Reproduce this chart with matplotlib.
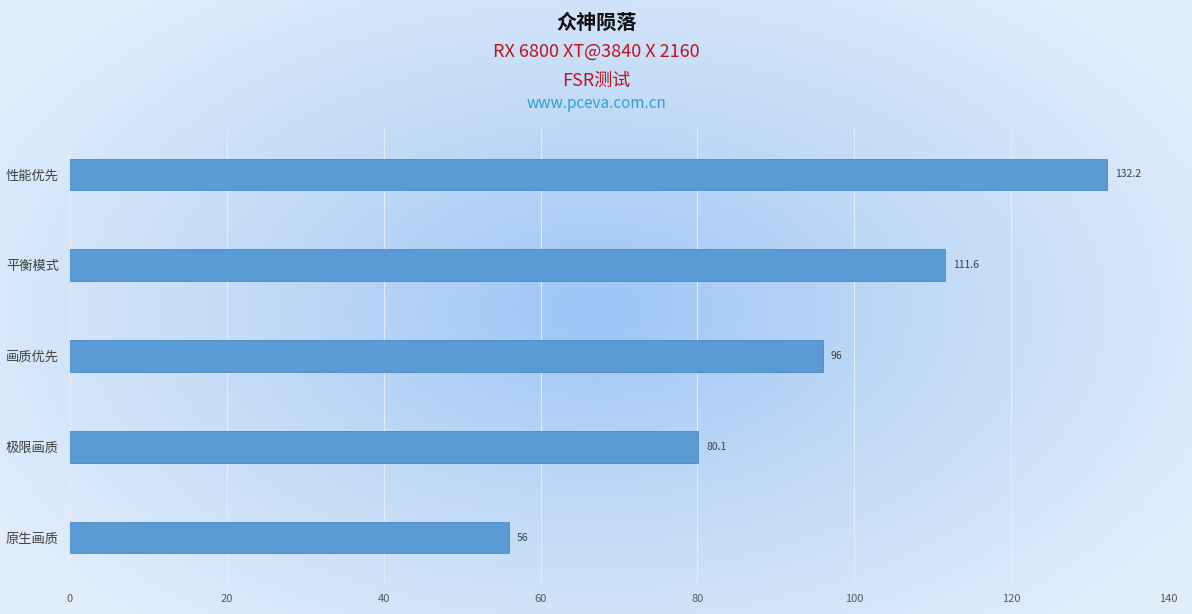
import numpy as np
import matplotlib.pyplot as plt
from matplotlib.colors import LinearSegmentedColormap

plt.rcParams['font.family'] = ['Noto Sans CJK SC', 'DejaVu Sans']

# ---------------- DATA ---------------- #
categories = ["性能优先", "平衡模式", "画质优先", "极限画质", "原生画质"]
fps = [132.2, 111.6, 96, 80.1, 56]
value_labels = ["132.2", "111.6", "96", "80.1", "56"]

title = "众神陨落"
subtitle1 = "RX 6800 XT@3840 X 2160"
subtitle2 = "FSR测试"
site = "www.pceva.com.cn"

# ---------------- FIGURE ---------------- #
fig = plt.figure(figsize=(11.92, 6.14), dpi=100)

# radial gradient background
bg = fig.add_axes([0, 0, 1, 1], zorder=-10)
yy, xx = np.mgrid[0:614, 0:1192]
r = np.sqrt(((xx - 595) / 700.0) ** 2 + ((yy - 310) / 420.0) ** 2)
r = np.clip(r, 0, 1)
cmap = LinearSegmentedColormap.from_list("bg", ["#9dc5f6", "#c3dbf7", "#e2edfb"])
bg.imshow(r, cmap=cmap, aspect="auto", extent=[0, 1192, 614, 0])
bg.axis("off")

ax = fig.add_axes([70 / 1192, 31 / 614, 1098 / 1192, 454 / 614])
ax.patch.set_alpha(0)

y = np.arange(len(categories))
bars = ax.barh(y, fps, height=0.35, color="#5b9bd5", edgecolor="#4a8ac4", linewidth=0.6, zorder=3)

for yi, v, lab in zip(y, fps, value_labels):
    ax.text(v + 1, yi, lab, va="center", ha="left", fontsize=7.5, color="#404040")

ax.set_xlim(0, 140)
ax.set_ylim(len(categories) - 0.5, -0.5)
ax.set_xticks(range(0, 141, 20))
ax.set_yticks(y)
ax.set_yticklabels(categories)
ax.tick_params(axis="x", length=0, labelsize=8, colors="#595959", pad=8)
ax.tick_params(axis="y", length=0, labelsize=9.5, colors="#404040", pad=8)
ax.grid(axis="x", color="#e4ecf8", linewidth=0.8, zorder=0)
for s in ax.spines.values():
    s.set_visible(False)

fig.text(0.5, 1 - 22 / 614, title, ha="center", va="center", fontsize=14.5, fontweight="bold", color="#111111")
fig.text(0.5, 1 - 52 / 614, subtitle1, ha="center", va="center", fontsize=13, color="#c0151e")
fig.text(0.5, 1 - 81 / 614, subtitle2, ha="center", va="center", fontsize=13, color="#c0151e")
fig.text(0.5, 1 - 104 / 614, site, ha="center", va="center", fontsize=11, color="#2b9fd9")

plt.savefig("out.png", dpi=100)
